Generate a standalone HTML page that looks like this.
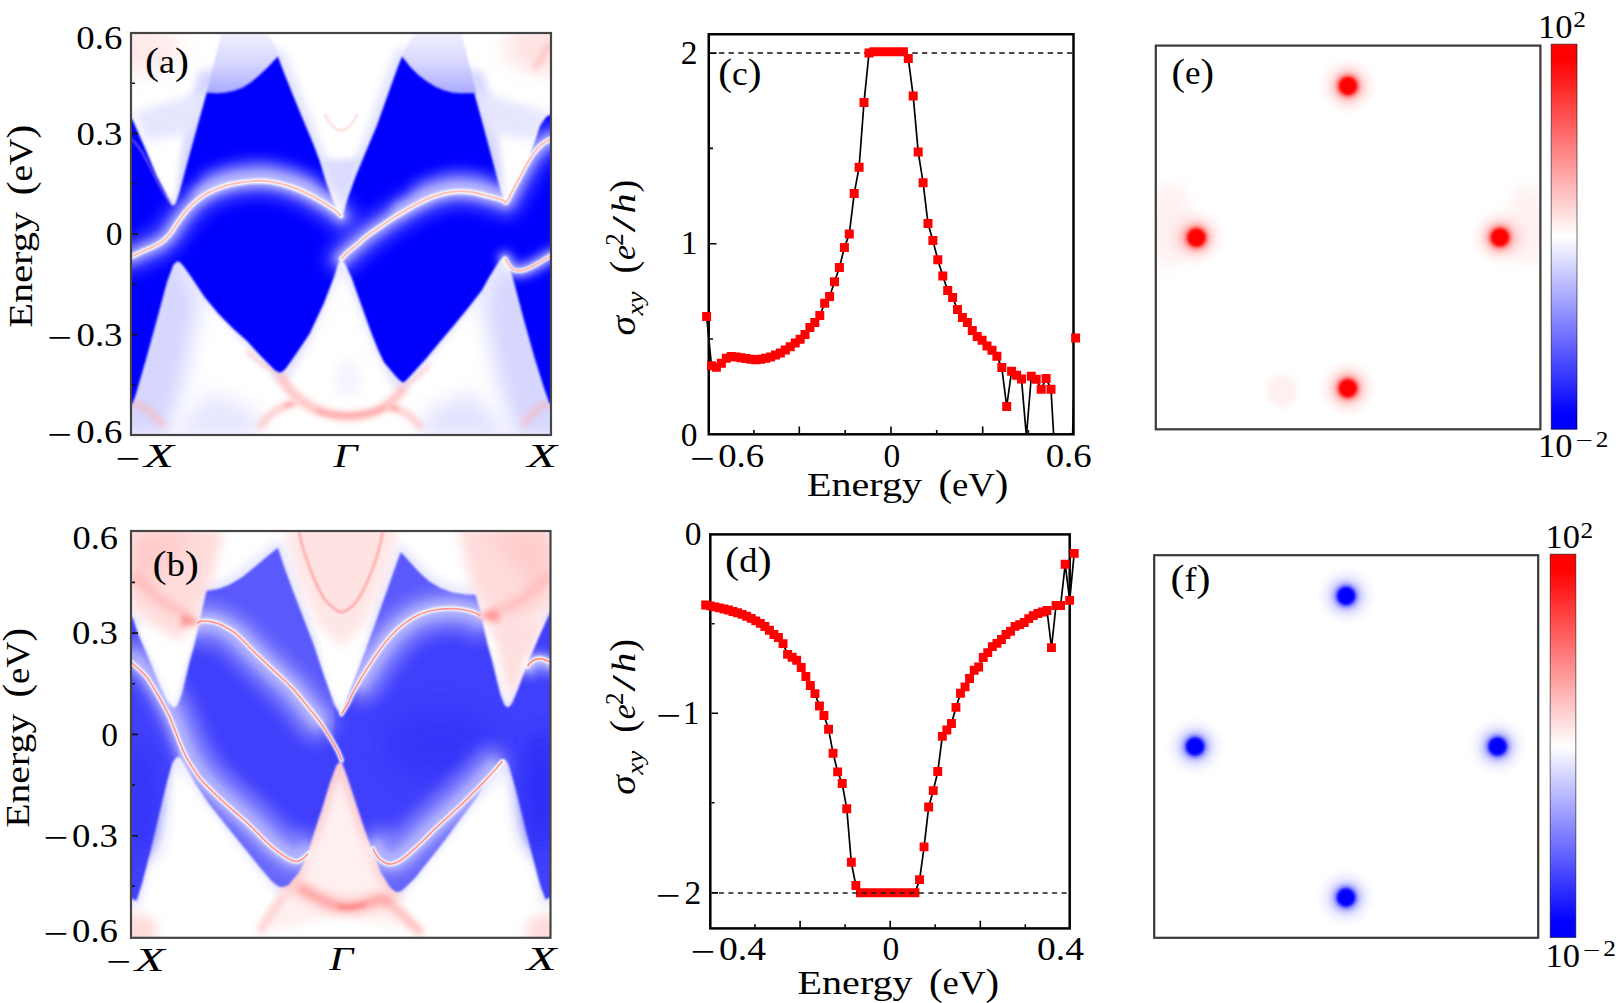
<!DOCTYPE html>
<html lang="en"><head><meta charset="utf-8"><title>Figure</title>
<style>
html,body{margin:0;padding:0;background:#fff;}
body{width:1616px;height:1003px;overflow:hidden;font-family:'Liberation Serif', 'DejaVu Serif', serif;}
svg{display:block;}
svg text{font-family:'Liberation Serif', 'DejaVu Serif', serif;fill:#000;}
</style></head><body>
<svg width="1616" height="1003" viewBox="0 0 1616 1003">
<defs>
<filter id="b05" filterUnits="userSpaceOnUse" x="0" y="0" width="1616" height="1003"><feGaussianBlur stdDeviation="0.5"/></filter>
<filter id="b08" filterUnits="userSpaceOnUse" x="0" y="0" width="1616" height="1003"><feGaussianBlur stdDeviation="0.8"/></filter>
<filter id="b1" filterUnits="userSpaceOnUse" x="0" y="0" width="1616" height="1003"><feGaussianBlur stdDeviation="1.0"/></filter>
<filter id="b15" filterUnits="userSpaceOnUse" x="0" y="0" width="1616" height="1003"><feGaussianBlur stdDeviation="1.5"/></filter>
<filter id="b2" filterUnits="userSpaceOnUse" x="0" y="0" width="1616" height="1003"><feGaussianBlur stdDeviation="2"/></filter>
<filter id="b3" filterUnits="userSpaceOnUse" x="0" y="0" width="1616" height="1003"><feGaussianBlur stdDeviation="3"/></filter>
<filter id="b4" filterUnits="userSpaceOnUse" x="0" y="0" width="1616" height="1003"><feGaussianBlur stdDeviation="4"/></filter>
<filter id="b5" filterUnits="userSpaceOnUse" x="0" y="0" width="1616" height="1003"><feGaussianBlur stdDeviation="5"/></filter>
<filter id="b6" filterUnits="userSpaceOnUse" x="0" y="0" width="1616" height="1003"><feGaussianBlur stdDeviation="6"/></filter>
<filter id="b8" filterUnits="userSpaceOnUse" x="0" y="0" width="1616" height="1003"><feGaussianBlur stdDeviation="8"/></filter>
<filter id="b10" filterUnits="userSpaceOnUse" x="0" y="0" width="1616" height="1003"><feGaussianBlur stdDeviation="10"/></filter>
<filter id="b14" filterUnits="userSpaceOnUse" x="0" y="0" width="1616" height="1003"><feGaussianBlur stdDeviation="14"/></filter>
<clipPath id="clipA"><rect x="131" y="33" width="420" height="402"/></clipPath>
<clipPath id="clipB"><rect x="131" y="531" width="419.5" height="406.8"/></clipPath>
<clipPath id="clipC"><rect x="705.5" y="34.2" width="368" height="400.1"/></clipPath>
<clipPath id="clipE"><rect x="1155.8" y="45.6" width="384.6" height="383.7"/></clipPath>
<clipPath id="clipF"><rect x="1154.2" y="555.2" width="384" height="382.6"/></clipPath>
<linearGradient id="cbar" x1="0" y1="0" x2="0" y2="1"><stop offset="0" stop-color="#ff0000"/><stop offset="0.04" stop-color="#ff0000"/><stop offset="0.5" stop-color="#ffffff"/><stop offset="0.96" stop-color="#0000ff"/><stop offset="1" stop-color="#0000ff"/></linearGradient>
<radialGradient id="dotR"><stop offset="0" stop-color="#ff0000" stop-opacity="1"/><stop offset="0.217" stop-color="#ff0000" stop-opacity="1"/><stop offset="0.283" stop-color="#ff0000" stop-opacity="0.85"/><stop offset="0.35" stop-color="#ff0000" stop-opacity="0.5"/><stop offset="0.433" stop-color="#ff0000" stop-opacity="0.28"/><stop offset="0.533" stop-color="#ff0000" stop-opacity="0.15"/><stop offset="0.667" stop-color="#ff0000" stop-opacity="0.07"/><stop offset="0.833" stop-color="#ff0000" stop-opacity="0.025"/><stop offset="1" stop-color="#ff0000" stop-opacity="0"/></radialGradient>
<radialGradient id="dotB"><stop offset="0" stop-color="#0000ff" stop-opacity="1"/><stop offset="0.217" stop-color="#0000ff" stop-opacity="1"/><stop offset="0.283" stop-color="#0000ff" stop-opacity="0.85"/><stop offset="0.35" stop-color="#0000ff" stop-opacity="0.5"/><stop offset="0.433" stop-color="#0000ff" stop-opacity="0.28"/><stop offset="0.533" stop-color="#0000ff" stop-opacity="0.15"/><stop offset="0.667" stop-color="#0000ff" stop-opacity="0.07"/><stop offset="0.833" stop-color="#0000ff" stop-opacity="0.025"/><stop offset="1" stop-color="#0000ff" stop-opacity="0"/></radialGradient>
<linearGradient id="bowlA" gradientUnits="userSpaceOnUse" x1="0" y1="34" x2="0" y2="96"><stop offset="0" stop-color="#f0f0ff"/><stop offset="0.5" stop-color="#d4d4ff"/><stop offset="1" stop-color="#a4a4ff"/></linearGradient>
</defs>
<rect x="0" y="0" width="1616" height="1003" fill="#ffffff"/>
<g clip-path="url(#clipA)">
<rect x="130" y="32" width="424" height="406" fill="#ffffff"/>
<path d="M128.0,119.2 L132.3,119.2 L146.0,150.6 L156.4,175.7 L166.9,196.0 L169.6,200.6 L171.3,204.0 L173.3,205.8 L175.4,204.0 L177.0,199.8 L179.4,192.5 L187.8,161.1 L198.3,123.0 L206.8,92.4 L217.1,93.2 L225.5,92.6 L233.8,90.8 L242.2,87.8 L250.6,82.6 L259.0,75.4 L268.0,67.0 L277.8,56.4 L284.1,73.1 L292.5,94.1 L302.9,119.2 L313.4,144.3 L319.7,161.1 L326.0,182.0 L334.3,205.0 L338.8,213.5 L341.3,216.0 L343.8,212.0 L347.6,198.8 L355.9,175.7 L366.4,150.6 L376.9,125.5 L387.3,96.2 L397.8,66.9 L402.0,56.4 L410.4,66.9 L418.7,75.2 L427.1,81.5 L435.5,86.8 L443.9,90.3 L452.2,92.4 L460.6,93.2 L474.2,93.0 L481.5,119.2 L489.9,150.6 L498.3,182.0 L502.2,194.5 L503.7,199.5 L505.6,202.4 L507.4,200.5 L508.8,197.5 L519.3,177.5 L527.5,162.0 L533.5,146.0 L540.1,125.5 L546.0,117.0 L554.0,112.5 L554.0,403.7 L549.6,403.7 L544.3,389.1 L533.9,355.6 L523.4,317.9 L512.9,278.1 L508.3,262.5 L504.6,257.4 L500.4,259.6 L495.6,266.8 L488.6,277.9 L481.7,290.5 L467.7,308.6 L453.8,325.4 L439.8,342.1 L425.8,358.9 L418.7,366.7 L411.9,374.2 L407.0,379.6 L403.5,382.8 L399.5,380.3 L395.1,375.6 L384.0,362.3 L378.3,350.3 L371.1,332.3 L362.2,307.5 L351.7,278.1 L345.5,264.5 L341.8,259.5 L338.0,264.0 L334.3,276.1 L323.9,303.3 L309.6,333.8 L298.4,350.5 L288.7,364.5 L284.5,370.0 L280.3,372.8 L276.5,371.3 L274.7,370.0 L260.7,356.1 L246.8,340.7 L232.8,328.2 L218.9,314.2 L204.9,297.5 L190.9,276.5 L184.0,266.8 L180.5,262.8 L177.7,261.3 L173.5,264.5 L166.9,282.3 L158.5,313.7 L145.9,359.8 L135.5,395.4 L132.3,403.7 L128.0,403.7Z" fill="#e6e6ff" stroke="#e2e2ff" stroke-width="16" stroke-linejoin="round" filter="url(#b5)"/>
<path d="M132,34 L184,34 L180,120 L177,190 L173,204 L160,182 L132,122 Z" fill="#ffffff" filter="url(#b3)"/>
<path d="M550,34 L498,34 L502,120 L505,190 L509,204 L522,182 L550,122 Z" fill="#ffffff" filter="url(#b3)"/>
<path d="M292,34 L390,34 L354,150 L341,208 L328,150 Z" fill="#ffffff" filter="url(#b5)"/>
<path d="M178,264 L200,296 L272,374 L262,436 L205,436 L192,330 Z" fill="#ffffff" filter="url(#b4)"/>
<path d="M504,260 L482,296 L410,384 L420,436 L477,436 L490,330 Z" fill="#ffffff" filter="url(#b4)"/>
<path d="M341,268 L386,376 L374,420 L308,420 L298,372 Z" fill="#ffffff" filter="url(#b5)" opacity="0.9"/>
<path d="M321,160 L362,158 L341.5,216 Z" fill="#dcdcff" filter="url(#b3)"/>
<path d="M112,404 L168,240 L200,300 L184,380 L166,438 L112,438 Z" fill="#d6d6ff" filter="url(#b10)"/>
<path d="M570,404 L514,240 L482,300 L498,380 L516,438 L570,438 Z" fill="#d6d6ff" filter="url(#b10)"/>
<path d="M212,392 L256,412 L262,438 L166,438 Z" fill="#e6e6ff" filter="url(#b10)"/>
<path d="M470,392 L426,412 L420,438 L516,438 Z" fill="#e2e2ff" filter="url(#b10)"/>
<path d="M177,216 L220,95 L226,66 L199,72 L188,115 Z" fill="#d6d6ff" filter="url(#b4)"/>
<path d="M210,90 L134,112 L146,142 L194,132 Z" fill="#e6e6ff" filter="url(#b5)"/>
<path d="M505,216 L462,95 L456,66 L483,72 L494,115 Z" fill="#d6d6ff" filter="url(#b4)"/>
<path d="M472,90 L548,112 L536,142 L488,132 Z" fill="#e6e6ff" filter="url(#b5)"/>
<path d="M206.5,93 L221.5,33 L266,33 L274,43 L279,58 L268,68 L259,76.4 L250.6,83.6 L242.2,88.8 L233.8,91.8 L225.5,93.6 L217.1,94.2 Z" fill="url(#bowlA)" filter="url(#b1)"/>
<path d="M476.5,94 L461.5,33 L416,33 L408,43 L401,58 L410.4,67.9 L418.7,76.2 L427.1,82.5 L435.5,87.8 L443.9,91.3 L452.2,93.4 L460.6,94.2 Z" fill="url(#bowlA)" filter="url(#b1)"/>
<ellipse cx="136" cy="50" rx="46" ry="24" fill="#ffdada" filter="url(#b10)" opacity="0.6"/>
<ellipse cx="546" cy="48" rx="42" ry="24" fill="#ffd6d6" filter="url(#b10)" opacity="0.7"/>
<path d="M551,43 L534,70" fill="none" stroke="#ffb4b4" stroke-width="6" filter="url(#b3)" opacity="0.7"/>
<path d="M324.5,114 Q341,147 357.5,114" fill="none" stroke="#ffc4c4" stroke-width="1.5" filter="url(#b08)"/>
<ellipse cx="348" cy="379" rx="15" ry="19" fill="#f6f6ff" filter="url(#b5)"/>
<path d="M279,374 C292,398 315,416 349,416.5 C378,416 395,402 404,386" fill="none" stroke="#ffb4b4" stroke-width="9" filter="url(#b3)" opacity="0.8"/>
<path d="M316,410 C330,417.5 366,418 386,407" fill="none" stroke="#ff9a9a" stroke-width="4" filter="url(#b2)" opacity="0.75"/>
<path d="M259,428 C268,414 280,406 294.6,403.7" fill="none" stroke="#ffb0b0" stroke-width="6" filter="url(#b3)" opacity="0.75"/>
<path d="M284,405.5 L294.6,403.7" fill="none" stroke="#ff8c8c" stroke-width="3" filter="url(#b2)" opacity="0.8"/>
<path d="M389.4,407.6 C402,409 413,417 422,429" fill="none" stroke="#ffb0b0" stroke-width="6" filter="url(#b3)" opacity="0.75"/>
<path d="M389.4,407.6 L399,409.5" fill="none" stroke="#ff8c8c" stroke-width="3" filter="url(#b2)" opacity="0.8"/>
<path d="M246,351 L262,364 L278,374" fill="none" stroke="#ffb8b8" stroke-width="4" filter="url(#b2)" opacity="0.6"/>
<path d="M405,386 L416,378 L430,365" fill="none" stroke="#ffb8b8" stroke-width="4" filter="url(#b2)" opacity="0.6"/>
<path d="M132,404 C145,406 156,414 164,428" fill="none" stroke="#ffb4b4" stroke-width="6" filter="url(#b3)" opacity="0.7"/>
<path d="M550,404 C538,406 530,414 523,426" fill="none" stroke="#ffb4b4" stroke-width="6" filter="url(#b3)" opacity="0.7"/>
<path d="M128.0,119.2 L132.3,119.2 L146.0,150.6 L156.4,175.7 L166.9,196.0 L169.6,200.6 L171.3,204.0 L173.3,205.8 L175.4,204.0 L177.0,199.8 L179.4,192.5 L187.8,161.1 L198.3,123.0 L206.8,92.4 L217.1,93.2 L225.5,92.6 L233.8,90.8 L242.2,87.8 L250.6,82.6 L259.0,75.4 L268.0,67.0 L277.8,56.4 L284.1,73.1 L292.5,94.1 L302.9,119.2 L313.4,144.3 L319.7,161.1 L326.0,182.0 L334.3,205.0 L338.8,213.5 L341.3,216.0 L343.8,212.0 L347.6,198.8 L355.9,175.7 L366.4,150.6 L376.9,125.5 L387.3,96.2 L397.8,66.9 L402.0,56.4 L410.4,66.9 L418.7,75.2 L427.1,81.5 L435.5,86.8 L443.9,90.3 L452.2,92.4 L460.6,93.2 L474.2,93.0 L481.5,119.2 L489.9,150.6 L498.3,182.0 L502.2,194.5 L503.7,199.5 L505.6,202.4 L507.4,200.5 L508.8,197.5 L519.3,177.5 L527.5,162.0 L533.5,146.0 L540.1,125.5 L546.0,117.0 L554.0,112.5 L554.0,403.7 L549.6,403.7 L544.3,389.1 L533.9,355.6 L523.4,317.9 L512.9,278.1 L508.3,262.5 L504.6,257.4 L500.4,259.6 L495.6,266.8 L488.6,277.9 L481.7,290.5 L467.7,308.6 L453.8,325.4 L439.8,342.1 L425.8,358.9 L418.7,366.7 L411.9,374.2 L407.0,379.6 L403.5,382.8 L399.5,380.3 L395.1,375.6 L384.0,362.3 L378.3,350.3 L371.1,332.3 L362.2,307.5 L351.7,278.1 L345.5,264.5 L341.8,259.5 L338.0,264.0 L334.3,276.1 L323.9,303.3 L309.6,333.8 L298.4,350.5 L288.7,364.5 L284.5,370.0 L280.3,372.8 L276.5,371.3 L274.7,370.0 L260.7,356.1 L246.8,340.7 L232.8,328.2 L218.9,314.2 L204.9,297.5 L190.9,276.5 L184.0,266.8 L180.5,262.8 L177.7,261.3 L173.5,264.5 L166.9,282.3 L158.5,313.7 L145.9,359.8 L135.5,395.4 L132.3,403.7 L128.0,403.7Z" fill="#0505ff" filter="url(#b08)"/>
<path d="M208.7,177.5 C212.2,176.2 222.0,171.5 229.7,169.6 C237.4,167.7 247.8,166.5 254.8,166.0 C261.8,165.5 265.2,165.8 271.5,166.8 C277.8,167.8 285.5,169.7 292.5,172.2 C299.5,174.7 309.9,180.1 313.4,181.7" fill="none" stroke="#fff" stroke-width="16" opacity="0.22" filter="url(#b6)" stroke-linecap="round"/>
<path d="M418.7,188.2 C421.5,187.0 429.9,182.7 435.5,180.8 C441.1,178.9 446.6,177.5 452.2,176.8 C457.8,176.1 463.4,176.2 469.0,176.8 C474.6,177.4 482.9,179.8 485.7,180.4" fill="none" stroke="#fff" stroke-width="16" opacity="0.22" filter="url(#b6)" stroke-linecap="round"/>
<path d="M198.0,192.5 C199.8,191.3 203.4,188.0 208.7,185.5 C214.0,183.0 222.0,179.5 229.7,177.6 C237.4,175.7 247.8,174.5 254.8,174.0 C261.8,173.5 265.2,173.8 271.5,174.8 C277.8,175.8 285.5,177.7 292.5,180.2 C299.5,182.7 306.4,186.0 313.4,189.7 C320.4,193.4 330.8,200.4 334.3,202.5" fill="none" stroke="#fff" stroke-width="13" opacity="0.36" filter="url(#b5)" stroke-linecap="round"/>
<path d="M397.0,208.5 C400.6,206.4 412.3,199.5 418.7,196.2 C425.1,192.9 429.9,190.7 435.5,188.8 C441.1,186.9 446.6,185.5 452.2,184.8 C457.8,184.1 463.4,184.2 469.0,184.8 C474.6,185.4 480.1,187.0 485.7,188.4 C491.3,189.8 499.7,192.2 502.5,193.0" fill="none" stroke="#fff" stroke-width="13" opacity="0.36" filter="url(#b5)" stroke-linecap="round"/>
<path d="M130.0,257.0 C130.4,256.9 129.7,257.4 132.3,256.2 C135.0,255.0 141.9,251.7 145.9,249.9 C149.9,248.1 153.2,246.9 156.4,245.2 C159.6,243.5 162.4,241.6 164.8,239.5 C167.2,237.4 168.9,235.4 171.1,232.5 C173.3,229.6 175.2,225.9 178.0,222.0 C180.8,218.1 184.5,212.9 187.8,209.2 C191.1,205.4 194.5,202.3 198.0,199.5 C201.5,196.7 203.4,195.0 208.7,192.5 C214.0,190.0 222.0,186.5 229.7,184.6 C237.4,182.7 247.8,181.5 254.8,181.0 C261.8,180.5 265.2,180.8 271.5,181.8 C277.8,182.8 285.5,184.7 292.5,187.2 C299.5,189.7 306.4,193.0 313.4,196.7 C320.4,200.4 329.7,206.3 334.3,209.5 C338.9,212.7 339.9,214.9 341.0,216.0" fill="none" stroke="#fff" stroke-width="30" opacity="0.33" filter="url(#b8)" stroke-linecap="round"/><path d="M130.0,257.0 C130.4,256.9 129.7,257.4 132.3,256.2 C135.0,255.0 141.9,251.7 145.9,249.9 C149.9,248.1 153.2,246.9 156.4,245.2 C159.6,243.5 162.4,241.6 164.8,239.5 C167.2,237.4 168.9,235.4 171.1,232.5 C173.3,229.6 175.2,225.9 178.0,222.0 C180.8,218.1 184.5,212.9 187.8,209.2 C191.1,205.4 194.5,202.3 198.0,199.5 C201.5,196.7 203.4,195.0 208.7,192.5 C214.0,190.0 222.0,186.5 229.7,184.6 C237.4,182.7 247.8,181.5 254.8,181.0 C261.8,180.5 265.2,180.8 271.5,181.8 C277.8,182.8 285.5,184.7 292.5,187.2 C299.5,189.7 306.4,193.0 313.4,196.7 C320.4,200.4 329.7,206.3 334.3,209.5 C338.9,212.7 339.9,214.9 341.0,216.0" fill="none" stroke="#fff" stroke-width="14" opacity="0.5" filter="url(#b4)" stroke-linecap="round"/><path d="M130.0,257.0 C130.4,256.9 129.7,257.4 132.3,256.2 C135.0,255.0 141.9,251.7 145.9,249.9 C149.9,248.1 153.2,246.9 156.4,245.2 C159.6,243.5 162.4,241.6 164.8,239.5 C167.2,237.4 168.9,235.4 171.1,232.5 C173.3,229.6 175.2,225.9 178.0,222.0 C180.8,218.1 184.5,212.9 187.8,209.2 C191.1,205.4 194.5,202.3 198.0,199.5 C201.5,196.7 203.4,195.0 208.7,192.5 C214.0,190.0 222.0,186.5 229.7,184.6 C237.4,182.7 247.8,181.5 254.8,181.0 C261.8,180.5 265.2,180.8 271.5,181.8 C277.8,182.8 285.5,184.7 292.5,187.2 C299.5,189.7 306.4,193.0 313.4,196.7 C320.4,200.4 329.7,206.3 334.3,209.5 C338.9,212.7 339.9,214.9 341.0,216.0" fill="none" stroke="#fff" stroke-width="5.2" opacity="1.0" filter="url(#b1)" stroke-linecap="round"/><path d="M130.0,257.0 C130.4,256.9 129.7,257.4 132.3,256.2 C135.0,255.0 141.9,251.7 145.9,249.9 C149.9,248.1 153.2,246.9 156.4,245.2 C159.6,243.5 162.4,241.6 164.8,239.5 C167.2,237.4 168.9,235.4 171.1,232.5 C173.3,229.6 175.2,225.9 178.0,222.0 C180.8,218.1 184.5,212.9 187.8,209.2 C191.1,205.4 194.5,202.3 198.0,199.5 C201.5,196.7 203.4,195.0 208.7,192.5 C214.0,190.0 222.0,186.5 229.7,184.6 C237.4,182.7 247.8,181.5 254.8,181.0 C261.8,180.5 265.2,180.8 271.5,181.8 C277.8,182.8 285.5,184.7 292.5,187.2 C299.5,189.7 306.4,193.0 313.4,196.7 C320.4,200.4 329.7,206.3 334.3,209.5 C338.9,212.7 339.9,214.9 341.0,216.0" fill="none" stroke="#ffc0b4" stroke-width="2.0" filter="url(#b05)"/>
<path d="M341.3,259.0 C342.4,257.8 345.6,254.2 348.0,252.0 C350.4,249.8 352.8,248.3 355.9,245.7 C359.0,243.1 362.9,239.3 366.4,236.5 C369.9,233.7 371.8,232.5 376.9,229.0 C382.0,225.5 390.0,219.8 397.0,215.5 C404.0,211.2 412.3,206.5 418.7,203.2 C425.1,199.9 429.9,197.7 435.5,195.8 C441.1,193.9 446.6,192.5 452.2,191.8 C457.8,191.1 463.4,191.2 469.0,191.8 C474.6,192.4 480.1,194.0 485.7,195.4 C491.3,196.8 499.1,198.9 502.5,200.0 C505.9,201.1 504.6,203.6 506.3,202.0 C508.0,200.4 510.3,194.5 512.5,190.5 C514.7,186.5 516.9,182.4 519.3,177.9 C521.7,173.4 524.6,167.6 527.0,163.5 C529.4,159.4 531.3,156.4 533.5,153.5 C535.7,150.6 537.9,148.0 540.0,146.0 C542.1,144.0 544.0,142.8 546.0,141.5 C548.0,140.2 551.0,139.0 552.0,138.5" fill="none" stroke="#fff" stroke-width="30" opacity="0.33" filter="url(#b8)" stroke-linecap="round"/><path d="M341.3,259.0 C342.4,257.8 345.6,254.2 348.0,252.0 C350.4,249.8 352.8,248.3 355.9,245.7 C359.0,243.1 362.9,239.3 366.4,236.5 C369.9,233.7 371.8,232.5 376.9,229.0 C382.0,225.5 390.0,219.8 397.0,215.5 C404.0,211.2 412.3,206.5 418.7,203.2 C425.1,199.9 429.9,197.7 435.5,195.8 C441.1,193.9 446.6,192.5 452.2,191.8 C457.8,191.1 463.4,191.2 469.0,191.8 C474.6,192.4 480.1,194.0 485.7,195.4 C491.3,196.8 499.1,198.9 502.5,200.0 C505.9,201.1 504.6,203.6 506.3,202.0 C508.0,200.4 510.3,194.5 512.5,190.5 C514.7,186.5 516.9,182.4 519.3,177.9 C521.7,173.4 524.6,167.6 527.0,163.5 C529.4,159.4 531.3,156.4 533.5,153.5 C535.7,150.6 537.9,148.0 540.0,146.0 C542.1,144.0 544.0,142.8 546.0,141.5 C548.0,140.2 551.0,139.0 552.0,138.5" fill="none" stroke="#fff" stroke-width="14" opacity="0.5" filter="url(#b4)" stroke-linecap="round"/><path d="M341.3,259.0 C342.4,257.8 345.6,254.2 348.0,252.0 C350.4,249.8 352.8,248.3 355.9,245.7 C359.0,243.1 362.9,239.3 366.4,236.5 C369.9,233.7 371.8,232.5 376.9,229.0 C382.0,225.5 390.0,219.8 397.0,215.5 C404.0,211.2 412.3,206.5 418.7,203.2 C425.1,199.9 429.9,197.7 435.5,195.8 C441.1,193.9 446.6,192.5 452.2,191.8 C457.8,191.1 463.4,191.2 469.0,191.8 C474.6,192.4 480.1,194.0 485.7,195.4 C491.3,196.8 499.1,198.9 502.5,200.0 C505.9,201.1 504.6,203.6 506.3,202.0 C508.0,200.4 510.3,194.5 512.5,190.5 C514.7,186.5 516.9,182.4 519.3,177.9 C521.7,173.4 524.6,167.6 527.0,163.5 C529.4,159.4 531.3,156.4 533.5,153.5 C535.7,150.6 537.9,148.0 540.0,146.0 C542.1,144.0 544.0,142.8 546.0,141.5 C548.0,140.2 551.0,139.0 552.0,138.5" fill="none" stroke="#fff" stroke-width="5.2" opacity="1.0" filter="url(#b1)" stroke-linecap="round"/><path d="M341.3,259.0 C342.4,257.8 345.6,254.2 348.0,252.0 C350.4,249.8 352.8,248.3 355.9,245.7 C359.0,243.1 362.9,239.3 366.4,236.5 C369.9,233.7 371.8,232.5 376.9,229.0 C382.0,225.5 390.0,219.8 397.0,215.5 C404.0,211.2 412.3,206.5 418.7,203.2 C425.1,199.9 429.9,197.7 435.5,195.8 C441.1,193.9 446.6,192.5 452.2,191.8 C457.8,191.1 463.4,191.2 469.0,191.8 C474.6,192.4 480.1,194.0 485.7,195.4 C491.3,196.8 499.1,198.9 502.5,200.0 C505.9,201.1 504.6,203.6 506.3,202.0 C508.0,200.4 510.3,194.5 512.5,190.5 C514.7,186.5 516.9,182.4 519.3,177.9 C521.7,173.4 524.6,167.6 527.0,163.5 C529.4,159.4 531.3,156.4 533.5,153.5 C535.7,150.6 537.9,148.0 540.0,146.0 C542.1,144.0 544.0,142.8 546.0,141.5 C548.0,140.2 551.0,139.0 552.0,138.5" fill="none" stroke="#ffc0b4" stroke-width="2.0" filter="url(#b05)"/>
<path d="M505.0,258.5 C505.6,259.6 507.5,263.4 508.8,265.2 C510.1,267.0 511.6,268.6 513.0,269.5 C514.4,270.4 515.0,270.8 517.1,270.8 C519.2,270.8 522.4,270.7 525.5,269.6 C528.6,268.6 531.6,266.9 536.0,264.5 C540.4,262.1 549.3,256.6 552.0,255.0" fill="none" stroke="#fff" stroke-width="18" opacity="0.35" filter="url(#b5)" stroke-linecap="round"/><path d="M505.0,258.5 C505.6,259.6 507.5,263.4 508.8,265.2 C510.1,267.0 511.6,268.6 513.0,269.5 C514.4,270.4 515.0,270.8 517.1,270.8 C519.2,270.8 522.4,270.7 525.5,269.6 C528.6,268.6 531.6,266.9 536.0,264.5 C540.4,262.1 549.3,256.6 552.0,255.0" fill="none" stroke="#fff" stroke-width="9" opacity="0.5" filter="url(#b3)" stroke-linecap="round"/><path d="M505.0,258.5 C505.6,259.6 507.5,263.4 508.8,265.2 C510.1,267.0 511.6,268.6 513.0,269.5 C514.4,270.4 515.0,270.8 517.1,270.8 C519.2,270.8 522.4,270.7 525.5,269.6 C528.6,268.6 531.6,266.9 536.0,264.5 C540.4,262.1 549.3,256.6 552.0,255.0" fill="none" stroke="#fff" stroke-width="4.4" opacity="1.0" filter="url(#b1)" stroke-linecap="round"/><path d="M505.0,258.5 C505.6,259.6 507.5,263.4 508.8,265.2 C510.1,267.0 511.6,268.6 513.0,269.5 C514.4,270.4 515.0,270.8 517.1,270.8 C519.2,270.8 522.4,270.7 525.5,269.6 C528.6,268.6 531.6,266.9 536.0,264.5 C540.4,262.1 549.3,256.6 552.0,255.0" fill="none" stroke="#ffc0b4" stroke-width="2.0" filter="url(#b05)"/>
<path d="M130.0,138.0 C130.7,138.6 132.0,139.2 134.0,141.5 C136.0,143.8 139.3,147.8 142.0,152.0 C144.7,156.2 147.0,161.2 150.0,167.0 C153.0,172.8 157.0,181.6 160.0,187.0 C163.0,192.4 165.8,196.5 168.0,199.5 C170.2,202.5 172.2,204.1 173.0,205.0" fill="none" stroke="#ffd0d0" stroke-width="1.4" filter="url(#b08)" opacity="0.55"/>
</g>
<rect x="131" y="33" width="420" height="402" fill="none" stroke="#454545" stroke-width="2.2"/>
<path d="M132,133.5 h6 M132,234 h6 M132,334.5 h6 M132,83.2 h3 M132,183.7 h3 M132,284.2 h3 M132,384.7 h3" stroke="#111" stroke-width="1.6" fill="none"/>
<text x="122.3" y="49.3" font-size="33.5" text-anchor="end" textLength="46" lengthAdjust="spacingAndGlyphs" >0.6</text>
<text x="122.5" y="144.6" font-size="33.5" text-anchor="end" textLength="46" lengthAdjust="spacingAndGlyphs" >0.3</text>
<text x="122.5" y="245.3" font-size="33.5" text-anchor="end" >0</text>
<text x="122.5" y="346.3" font-size="33.5" text-anchor="end" textLength="46" lengthAdjust="spacingAndGlyphs" >0.3</text>
<text x="47.4" y="348.9" font-size="33.5" textLength="24.8" lengthAdjust="spacingAndGlyphs">−</text>
<text x="122.3" y="443" font-size="33.5" text-anchor="end" textLength="46" lengthAdjust="spacingAndGlyphs" >0.6</text>
<text x="47.4" y="445.6" font-size="33.5" textLength="24.8" lengthAdjust="spacingAndGlyphs">−</text>
<text x="145.1" y="73" font-size="33" textLength="44.0" lengthAdjust="spacingAndGlyphs"><tspan font-size="38.5" dy="0.6">(</tspan><tspan dy="-0.6">a</tspan><tspan font-size="38.5" dy="0.6">)</tspan></text>
<text x="115.8" y="469.6" font-size="33.5" textLength="24.8" lengthAdjust="spacingAndGlyphs">−</text>
<text x="144" y="467" font-size="34.5" font-style="italic" textLength="30" lengthAdjust="spacingAndGlyphs" >X</text>
<text x="333.5" y="467" font-size="34.5" font-style="italic" textLength="24" lengthAdjust="spacingAndGlyphs" >Γ</text>
<text x="527" y="467" font-size="34.5" font-style="italic" textLength="30" lengthAdjust="spacingAndGlyphs" >X</text>
<g transform="translate(32.4,326.9) rotate(-90)">
<text x="-0.8" y="0" font-size="34" textLength="115.9" lengthAdjust="spacingAndGlyphs">Energy</text>
<text x="131.6" y="0" font-size="34" textLength="70.6" lengthAdjust="spacingAndGlyphs"><tspan font-size="37.8" dy="0.7">(</tspan><tspan dy="-0.7">eV</tspan><tspan font-size="37.8" dy="0.7">)</tspan></text>
</g>
<g clip-path="url(#clipB)">
<rect x="130" y="529" width="424" height="412" fill="#ffffff"/>
<path d="M128.0,617.0 L132.5,617.5 L138.8,635.9 L146.0,652.1 L153.1,669.1 L160.3,686.2 L166.6,700.5 L170.6,705.6 L174.3,707.5 L177.4,705.2 L179.6,700.0 L181.9,693.4 L185.5,679.0 L189.9,661.0 L194.4,644.9 L198.9,625.1 L202.5,608.7 L206.6,590.9 L219.2,588.8 L229.7,584.7 L242.2,577.3 L254.8,566.9 L267.3,556.4 L277.8,548.0 L284.1,566.9 L292.5,589.9 L302.9,617.1 L313.4,644.3 L323.9,675.7 L334.3,705.0 L338.8,712.5 L341.3,714.2 L344.0,710.5 L347.6,698.8 L355.9,675.7 L366.4,648.5 L376.9,619.2 L387.3,589.9 L397.8,560.6 L400.9,552.2 L410.4,562.7 L418.7,572.1 L429.2,581.5 L439.7,587.8 L452.2,592.4 L464.8,594.5 L475.3,595.1 L479.5,608.7 L483.1,625.1 L487.6,644.9 L492.1,661.0 L496.5,679.0 L500.1,693.4 L502.4,700.0 L504.6,705.2 L507.5,707.5 L510.5,705.4 L512.5,702.3 L517.8,689.8 L523.2,675.4 L530.4,657.5 L539.4,635.9 L548.4,616.2 L554.0,606.0 L554.0,897.5 L549.6,897.8 L545.5,899.6 L540.1,884.9 L531.8,853.5 L523.4,820.0 L515.0,786.5 L508.8,765.6 L506.0,760.8 L503.5,759.5 L500.4,760.8 L497.5,765.3 L492.0,772.5 L486.5,781.0 L481.9,787.8 L475.9,797.9 L469.9,806.3 L457.9,821.9 L444.8,840.0 L435.8,851.5 L425.0,865.0 L414.9,878.0 L406.2,886.5 L401.5,890.4 L397.8,892.0 L394.0,890.5 L389.4,886.0 L381.1,872.3 L372.7,851.4 L364.3,828.4 L355.9,803.3 L347.6,778.1 L343.0,765.5 L340.4,761.6 L337.8,764.0 L336.4,765.6 L330.1,782.3 L321.8,809.5 L313.4,834.7 L307.1,855.6 L298.8,872.3 L288.3,884.9 L283.5,886.8 L279.9,886.8 L276.0,884.5 L271.5,880.7 L259.0,866.1 L242.2,845.1 L225.5,824.2 L208.7,803.3 L196.2,784.4 L185.7,765.6 L181.3,758.5 L178.4,756.4 L175.3,758.5 L172.1,763.5 L166.9,782.3 L158.5,817.0 L150.1,852.5 L142.2,883.0 L137.4,898.3 L136.3,901.0 L132.3,898.8 L128.0,897.8Z" fill="#ececff" stroke="#e6e6ff" stroke-width="14" stroke-linejoin="round" filter="url(#b5)"/>
<path d="M136,624 L174.3,703 L199,622 L170,632 Z" fill="#ffffff" filter="url(#b2)"/>
<path d="M481,620 L507.5,703 L546,622 L512,632 Z" fill="#ffffff" filter="url(#b2)"/>
<path d="M296,531 L387,531 L354,688 L341,710 L328,688 Z" fill="#ffffff" filter="url(#b3)"/>
<path d="M178,770 L272,890 L250,940 L140,940 L150,870 Z" fill="#ffffff" filter="url(#b5)"/>
<path d="M504,772 L405,895 L430,940 L540,940 L535,880 Z" fill="#ffffff" filter="url(#b5)"/>
<path d="M130,529 L224,529 L214,570 L205,598 L199,622 L180,640 L160,630 L130,606 Z" fill="#ffdcdc" filter="url(#b6)"/>
<path d="M130,529 L200,529 L150,585 L130,590 Z" fill="#ffc8c8" filter="url(#b10)" opacity="0.8"/>
<path d="M132,575 L160,600 L197,622" fill="none" stroke="#ffb0b0" stroke-width="10" filter="url(#b4)" opacity="0.7"/>
<path d="M552,529 L458,529 L468,570 L476,598 L481,617 L500,640 L522,630 L552,606 Z" fill="#ffdcdc" filter="url(#b6)"/>
<path d="M552,529 L482,529 L532,585 L552,590 Z" fill="#ffc8c8" filter="url(#b10)" opacity="0.8"/>
<path d="M550,575 L522,600 L484,617" fill="none" stroke="#ffb0b0" stroke-width="10" filter="url(#b4)" opacity="0.7"/>
<path d="M492,622 L546,620 L522,676 L510,700 L504,680 Z" fill="#ffe0e0" filter="url(#b4)"/>
<path d="M298.8,531.0 C299.5,533.8 300.6,540.3 303.0,548.0 C305.4,555.7 309.9,568.9 313.4,577.3 C316.9,585.7 320.4,593.1 323.9,598.3 C327.4,603.5 331.4,606.5 334.3,608.7 C337.2,611.0 339.1,611.4 341.0,611.8 C342.9,612.2 343.0,612.5 345.5,611.0 C348.0,609.5 352.4,607.1 355.9,602.5 C359.4,597.9 362.9,591.3 366.4,583.6 C369.9,575.9 374.1,565.2 376.9,556.4 C379.7,547.6 382.1,535.2 383.1,531.0 Z" fill="#ffdede" filter="url(#b2)"/>
<path d="M283,529 L296,575 L318,625 L341,648 L364,625 L386,575 L399,529 Z" fill="#ffe4e4" filter="url(#b5)" opacity="0.9"/>
<path d="M298.8,531.0 C299.5,533.8 300.6,540.3 303.0,548.0 C305.4,555.7 309.9,568.9 313.4,577.3 C316.9,585.7 320.4,593.1 323.9,598.3 C327.4,603.5 331.4,606.5 334.3,608.7 C337.2,611.0 339.1,611.4 341.0,611.8 C342.9,612.2 343.0,612.5 345.5,611.0 C348.0,609.5 352.4,607.1 355.9,602.5 C359.4,597.9 362.9,591.3 366.4,583.6 C369.9,575.9 374.1,565.2 376.9,556.4 C379.7,547.6 382.1,535.2 383.1,531.0" fill="none" stroke="#ffa4a4" stroke-width="2.4" filter="url(#b08)"/>
<path d="M341,770 L300,870 L282,892 L262,932 L300,925 L341,915 L385,925 L421,934 L398,896 L385,880 Z" fill="#fff0f0" filter="url(#b5)"/>
<path d="M340.5,762 L330,785 L318,820 L307,856 L296,876 L283,890" fill="none" stroke="#ffc4c4" stroke-width="11" filter="url(#b4)" opacity="0.8"/>
<path d="M341,762 L349,785 L361,820 L372,852 L384,878 L398,894" fill="none" stroke="#ffc4c4" stroke-width="11" filter="url(#b4)" opacity="0.8"/>
<path d="M292,884 C305,892 320,900 334,905 C346,908.5 358,906.5 370,902.5 C377,900 382,898 386,899.5 L392,906" fill="none" stroke="#ffbcbc" stroke-width="17" filter="url(#b5)" opacity="0.8"/>
<path d="M300,888 C310,894 322,900.5 334,905 C346,908.5 358,906.5 370,902.5 C377,900 382,898 386,899.5 L391,905" fill="none" stroke="#ff9494" stroke-width="5" filter="url(#b3)" opacity="0.9"/>
<path d="M338,906.5 C346,908.6 356,907.4 366,904" fill="none" stroke="#ff7070" stroke-width="3" filter="url(#b2)" opacity="0.85"/>
<path d="M391,905 L406,918 L422,934" fill="none" stroke="#ffb0b0" stroke-width="8" filter="url(#b3)" opacity="0.8"/>
<path d="M284,895 L272,912 L259,932" fill="none" stroke="#ffc0c0" stroke-width="8" filter="url(#b3)" opacity="0.7"/>
<ellipse cx="136" cy="930" rx="22" ry="16" fill="#ffdcdc" filter="url(#b6)"/>
<ellipse cx="546" cy="930" rx="20" ry="16" fill="#ffdcdc" filter="url(#b6)"/>
<path d="M128.0,617.0 L132.5,617.5 L138.8,635.9 L146.0,652.1 L153.1,669.1 L160.3,686.2 L166.6,700.5 L170.6,705.6 L174.3,707.5 L177.4,705.2 L179.6,700.0 L181.9,693.4 L185.5,679.0 L189.9,661.0 L194.4,644.9 L198.9,625.1 L202.5,608.7 L206.6,590.9 L219.2,588.8 L229.7,584.7 L242.2,577.3 L254.8,566.9 L267.3,556.4 L277.8,548.0 L284.1,566.9 L292.5,589.9 L302.9,617.1 L313.4,644.3 L323.9,675.7 L334.3,705.0 L338.8,712.5 L341.3,714.2 L344.0,710.5 L347.6,698.8 L355.9,675.7 L366.4,648.5 L376.9,619.2 L387.3,589.9 L397.8,560.6 L400.9,552.2 L410.4,562.7 L418.7,572.1 L429.2,581.5 L439.7,587.8 L452.2,592.4 L464.8,594.5 L475.3,595.1 L479.5,608.7 L483.1,625.1 L487.6,644.9 L492.1,661.0 L496.5,679.0 L500.1,693.4 L502.4,700.0 L504.6,705.2 L507.5,707.5 L510.5,705.4 L512.5,702.3 L517.8,689.8 L523.2,675.4 L530.4,657.5 L539.4,635.9 L548.4,616.2 L554.0,606.0 L554.0,897.5 L549.6,897.8 L545.5,899.6 L540.1,884.9 L531.8,853.5 L523.4,820.0 L515.0,786.5 L508.8,765.6 L506.0,760.8 L503.5,759.5 L500.4,760.8 L497.5,765.3 L492.0,772.5 L486.5,781.0 L481.9,787.8 L475.9,797.9 L469.9,806.3 L457.9,821.9 L444.8,840.0 L435.8,851.5 L425.0,865.0 L414.9,878.0 L406.2,886.5 L401.5,890.4 L397.8,892.0 L394.0,890.5 L389.4,886.0 L381.1,872.3 L372.7,851.4 L364.3,828.4 L355.9,803.3 L347.6,778.1 L343.0,765.5 L340.4,761.6 L337.8,764.0 L336.4,765.6 L330.1,782.3 L321.8,809.5 L313.4,834.7 L307.1,855.6 L298.8,872.3 L288.3,884.9 L283.5,886.8 L279.9,886.8 L276.0,884.5 L271.5,880.7 L259.0,866.1 L242.2,845.1 L225.5,824.2 L208.7,803.3 L196.2,784.4 L185.7,765.6 L181.3,758.5 L178.4,756.4 L175.3,758.5 L172.1,763.5 L166.9,782.3 L158.5,817.0 L150.1,852.5 L142.2,883.0 L137.4,898.3 L136.3,901.0 L132.3,898.8 L128.0,897.8Z" fill="#4040fc" filter="url(#b08)"/>
<ellipse cx="440" cy="745" rx="55" ry="38" fill="#3030f8" filter="url(#b14)" opacity="0.7"/>
<ellipse cx="540" cy="790" rx="16" ry="60" fill="#2c2cf6" filter="url(#b10)" opacity="0.9"/>
<ellipse cx="142" cy="800" rx="14" ry="55" fill="#3030f6" filter="url(#b10)" opacity="0.8"/>
<path d="M197.5,623.5 L200.5,621.4 L209.0,621.3 L218.5,623.6 L227.0,628.0 L236.9,634.6 L255.4,653.1 L273.8,670.6 L292.3,688.2 L310.7,710.3 L318.1,719.5 L323.8,727.5 L334.0,744.0 L334.3,705.0 L323.9,675.7 L313.4,644.3 L302.9,617.1 L292.5,589.9 L284.1,566.9 L277.8,548.0 L267.3,556.4 L254.8,566.9 L242.2,577.3 L229.7,584.7 L219.2,588.8 L206.6,590.9 L202.5,608.7 L198.9,625.1Z" fill="#fff" opacity="0.13" filter="url(#b1)"/>
<path d="M347.8,703.5 L353.0,692.5 L359.5,681.0 L365.9,670.4 L378.9,651.0 L391.9,634.7 L404.9,623.1 L417.8,615.3 L430.8,610.8 L443.8,608.8 L456.7,608.8 L469.7,611.0 L477.5,614.0 L480.5,616.5 L479.5,608.7 L475.3,595.1 L464.8,594.5 L452.2,592.4 L439.7,587.8 L429.2,581.5 L418.7,572.1 L410.4,562.7 L400.9,552.2 L397.8,560.6 L387.3,589.9 L376.9,619.2 L366.4,648.5 L355.9,675.7 L347.6,698.8Z" fill="#fff" opacity="0.13" filter="url(#b1)"/>
<path d="M199.2,626.0 C199.5,625.7 199.5,624.6 201.1,624.3 C202.6,624.1 205.9,623.9 208.6,624.3 C211.4,624.6 214.6,625.4 217.5,626.4 C220.3,627.5 222.6,628.8 225.5,630.6 C228.4,632.3 230.3,632.7 234.9,636.8 C239.6,641.0 247.2,649.3 253.3,655.2 C259.4,661.2 265.6,666.9 271.7,672.8 C277.9,678.6 284.0,683.7 290.1,690.2 C296.2,696.8 304.1,707.0 308.4,712.2 C312.7,717.4 314.5,719.9 315.8,721.4" fill="none" stroke="#fff" stroke-width="40" opacity="0.33" filter="url(#b8)" stroke-linecap="round"/><path d="M198.4,624.7 C198.8,624.4 199.0,623.2 200.8,622.9 C202.5,622.5 206.0,622.4 208.8,622.8 C211.7,623.1 215.1,623.9 218.0,625.0 C220.9,626.1 223.2,627.5 226.2,629.3 C229.2,631.1 231.2,631.6 235.9,635.7 C240.6,639.9 248.2,648.2 254.4,654.2 C260.5,660.2 266.6,665.8 272.8,671.7 C278.9,677.5 285.1,682.6 291.2,689.2 C297.3,695.8 305.3,706.1 309.5,711.3 C313.8,716.5 315.7,718.9 316.9,720.4" fill="none" stroke="#fff" stroke-width="18" opacity="0.4" filter="url(#b5)" stroke-linecap="round"/><path d="M197.5,623.5 C198.0,623.1 198.6,621.8 200.5,621.4 C202.4,621.0 206.0,620.9 209.0,621.3 C212.0,621.7 215.5,622.5 218.5,623.6 C221.5,624.7 223.9,626.2 227.0,628.0 C230.1,629.8 232.2,630.4 236.9,634.6 C241.6,638.8 249.2,647.1 255.4,653.1 C261.6,659.1 267.7,664.8 273.8,670.6 C279.9,676.5 286.2,681.6 292.3,688.2 C298.4,694.8 306.4,705.1 310.7,710.3 C315.0,715.5 315.9,716.6 318.1,719.5 C320.3,722.4 321.2,723.4 323.8,727.5 C326.4,731.6 331.6,739.8 334.0,744.0 C336.4,748.2 337.2,749.8 338.5,752.5 C339.8,755.2 341.1,759.2 341.6,760.5" fill="none" stroke="#fff" stroke-width="4.6" opacity="1.0" filter="url(#b1)" stroke-linecap="round"/><path d="M197.5,623.5 C198.0,623.1 198.6,621.8 200.5,621.4 C202.4,621.0 206.0,620.9 209.0,621.3 C212.0,621.7 215.5,622.5 218.5,623.6 C221.5,624.7 223.9,626.2 227.0,628.0 C230.1,629.8 232.2,630.4 236.9,634.6 C241.6,638.8 249.2,647.1 255.4,653.1 C261.6,659.1 267.7,664.8 273.8,670.6 C279.9,676.5 286.2,681.6 292.3,688.2 C298.4,694.8 306.4,705.1 310.7,710.3 C315.0,715.5 315.9,716.6 318.1,719.5 C320.3,722.4 321.2,723.4 323.8,727.5 C326.4,731.6 331.6,739.8 334.0,744.0 C336.4,748.2 337.2,749.8 338.5,752.5 C339.8,755.2 341.1,759.2 341.6,760.5" fill="none" stroke="#ff968c" stroke-width="1.7" filter="url(#b05)"/>
<path d="M178.0,738.0 L186.0,756.7 L193.5,769.0 L201.9,780.6 L217.9,796.6 L233.8,811.0 L249.8,825.3 L265.7,841.3 L275.0,849.5 L283.0,855.3 L290.4,859.8 L296.7,861.5 L302.9,858.7 L308.2,853.5 L307.1,855.6 L298.8,872.3 L288.3,884.9 L279.9,886.8 L271.5,880.7 L259.0,866.1 L242.2,845.1 L225.5,824.2 L208.7,803.3 L196.2,784.4 L185.7,765.6 L178.4,756.4Z" fill="#fff" opacity="0.2" filter="url(#b1)"/>
<path d="M134.8,655.1 C135.2,655.4 134.8,654.6 137.7,657.3 C140.6,659.9 147.8,665.7 152.1,670.9 C156.3,676.1 159.6,682.3 163.3,688.4 C166.9,694.5 171.4,702.6 174.0,707.6 C176.6,712.6 177.1,714.0 179.0,718.5 C180.9,723.1 183.0,729.2 185.4,735.0 C187.8,740.7 190.7,748.2 193.2,753.1 C195.6,758.1 197.7,760.9 200.2,764.6 C202.6,768.3 204.0,770.9 207.9,775.3 C211.8,779.7 218.2,785.9 223.4,790.8 C228.6,795.8 233.8,800.3 239.2,805.1 C244.5,809.8 250.0,814.4 255.3,819.5 C260.7,824.6 267.1,831.6 271.2,835.5 C275.4,839.5 277.3,841.1 280.0,843.3 C282.7,845.5 285.2,847.1 287.4,848.7 C289.7,850.2 292.3,851.7 293.7,852.5 C295.1,853.3 295.2,853.6 296.0,853.5 C296.8,853.5 297.2,853.1 298.3,852.1 C299.4,851.2 301.9,848.5 302.6,847.8" fill="none" stroke="#fff" stroke-width="34" opacity="0.36" filter="url(#b8)" stroke-linecap="round"/><path d="M131.8,659.1 C132.2,659.4 131.6,658.5 134.3,661.0 C137.1,663.5 144.1,669.1 148.2,674.1 C152.3,679.1 155.4,685.0 159.0,691.0 C162.5,696.9 167.0,705.0 169.6,709.9 C172.1,714.8 172.5,716.0 174.4,720.4 C176.2,724.9 178.4,731.0 180.8,736.9 C183.2,742.7 186.1,750.3 188.7,755.4 C191.2,760.4 193.4,763.5 196.0,767.3 C198.6,771.2 200.2,774.1 204.1,778.6 C208.1,783.1 214.7,789.4 220.0,794.4 C225.2,799.5 230.5,804.0 235.8,808.8 C241.1,813.6 246.5,818.1 251.9,823.1 C257.2,828.2 263.6,835.1 267.8,839.1 C271.9,843.1 274.1,844.9 276.9,847.2 C279.7,849.4 282.2,851.2 284.7,852.8 C287.1,854.5 289.7,856.1 291.6,857.1 C293.6,858.0 294.8,858.6 296.4,858.5 C298.0,858.4 299.6,857.4 301.2,856.2 C302.8,855.0 305.3,852.2 306.1,851.4" fill="none" stroke="#fff" stroke-width="16" opacity="0.4" filter="url(#b5)" stroke-linecap="round"/><path d="M130.0,661.5 C130.4,661.8 129.7,660.8 132.3,663.2 C135.0,665.6 141.9,671.1 145.9,676.0 C149.9,680.9 152.9,686.6 156.4,692.5 C159.9,698.4 164.4,706.4 166.9,711.3 C169.4,716.1 169.8,717.1 171.6,721.6 C173.4,726.1 175.6,732.1 178.0,738.0 C180.4,743.9 183.4,751.5 186.0,756.7 C188.6,761.9 190.8,765.0 193.5,769.0 C196.2,773.0 197.8,776.0 201.9,780.6 C206.0,785.2 212.6,791.5 217.9,796.6 C223.2,801.7 228.5,806.2 233.8,811.0 C239.1,815.8 244.5,820.2 249.8,825.3 C255.1,830.3 261.5,837.3 265.7,841.3 C269.9,845.3 272.1,847.2 275.0,849.5 C277.9,851.8 280.4,853.6 283.0,855.3 C285.6,857.0 288.1,858.8 290.4,859.8 C292.7,860.8 294.6,861.7 296.7,861.5 C298.8,861.3 301.0,860.0 302.9,858.7 C304.8,857.4 307.3,854.4 308.2,853.5" fill="none" stroke="#fff" stroke-width="4.6" opacity="1.0" filter="url(#b1)" stroke-linecap="round"/><path d="M130.0,661.5 C130.4,661.8 129.7,660.8 132.3,663.2 C135.0,665.6 141.9,671.1 145.9,676.0 C149.9,680.9 152.9,686.6 156.4,692.5 C159.9,698.4 164.4,706.4 166.9,711.3 C169.4,716.1 169.8,717.1 171.6,721.6 C173.4,726.1 175.6,732.1 178.0,738.0 C180.4,743.9 183.4,751.5 186.0,756.7 C188.6,761.9 190.8,765.0 193.5,769.0 C196.2,773.0 197.8,776.0 201.9,780.6 C206.0,785.2 212.6,791.5 217.9,796.6 C223.2,801.7 228.5,806.2 233.8,811.0 C239.1,815.8 244.5,820.2 249.8,825.3 C255.1,830.3 261.5,837.3 265.7,841.3 C269.9,845.3 272.1,847.2 275.0,849.5 C277.9,851.8 280.4,853.6 283.0,855.3 C285.6,857.0 288.1,858.8 290.4,859.8 C292.7,860.8 294.6,861.7 296.7,861.5 C298.8,861.3 301.0,860.0 302.9,858.7 C304.8,857.4 307.3,854.4 308.2,853.5" fill="none" stroke="#ff968c" stroke-width="1.7" filter="url(#b05)"/>
<path d="M362.1,682.6 C363.1,680.8 365.2,677.0 368.4,672.0 C371.6,667.1 377.0,658.6 381.3,652.8 C385.6,646.9 389.9,641.3 394.1,636.7 C398.3,632.2 402.5,628.6 406.7,625.5 C410.9,622.4 414.9,620.0 419.1,618.0 C423.2,616.0 427.4,614.7 431.5,613.7 C435.7,612.7 439.9,612.1 444.0,611.8 C448.2,611.5 452.3,611.4 456.4,611.8 C460.6,612.1 465.7,613.1 469.0,613.9 C472.3,614.7 474.5,615.9 476.1,616.7 C477.7,617.5 478.2,618.4 478.6,618.8" fill="none" stroke="#fff" stroke-width="40" opacity="0.33" filter="url(#b8)" stroke-linecap="round"/><path d="M360.8,681.8 C361.8,680.0 363.9,676.2 367.2,671.2 C370.4,666.2 375.8,657.8 380.1,651.9 C384.4,646.0 388.7,640.3 393.0,635.7 C397.3,631.1 401.6,627.5 405.8,624.3 C410.0,621.1 414.2,618.7 418.4,616.7 C422.7,614.6 426.9,613.3 431.2,612.3 C435.4,611.2 439.7,610.6 443.9,610.3 C448.2,610.0 452.3,609.9 456.6,610.3 C460.8,610.7 466.0,611.6 469.3,612.5 C472.7,613.3 475.1,614.5 476.8,615.3 C478.5,616.2 479.1,617.3 479.5,617.7" fill="none" stroke="#fff" stroke-width="18" opacity="0.4" filter="url(#b5)" stroke-linecap="round"/><path d="M341.5,714.2 C341.8,713.8 341.9,713.3 343.0,711.5 C344.1,709.7 346.1,706.7 347.8,703.5 C349.5,700.3 351.1,696.2 353.0,692.5 C354.9,688.8 357.4,684.7 359.5,681.0 C361.6,677.3 362.7,675.4 365.9,670.4 C369.1,665.4 374.6,657.0 378.9,651.0 C383.2,645.0 387.6,639.4 391.9,634.7 C396.2,630.1 400.6,626.3 404.9,623.1 C409.2,619.9 413.5,617.3 417.8,615.3 C422.1,613.2 426.5,611.9 430.8,610.8 C435.1,609.7 439.5,609.1 443.8,608.8 C448.1,608.5 452.4,608.4 456.7,608.8 C461.0,609.2 466.2,610.1 469.7,611.0 C473.2,611.9 475.7,613.1 477.5,614.0 C479.3,614.9 480.0,616.1 480.5,616.5" fill="none" stroke="#fff" stroke-width="4.6" opacity="1.0" filter="url(#b1)" stroke-linecap="round"/><path d="M341.5,714.2 C341.8,713.8 341.9,713.3 343.0,711.5 C344.1,709.7 346.1,706.7 347.8,703.5 C349.5,700.3 351.1,696.2 353.0,692.5 C354.9,688.8 357.4,684.7 359.5,681.0 C361.6,677.3 362.7,675.4 365.9,670.4 C369.1,665.4 374.6,657.0 378.9,651.0 C383.2,645.0 387.6,639.4 391.9,634.7 C396.2,630.1 400.6,626.3 404.9,623.1 C409.2,619.9 413.5,617.3 417.8,615.3 C422.1,613.2 426.5,611.9 430.8,610.8 C435.1,609.7 439.5,609.1 443.8,608.8 C448.1,608.5 452.4,608.4 456.7,608.8 C461.0,609.2 466.2,610.1 469.7,611.0 C473.2,611.9 475.7,613.1 477.5,614.0 C479.3,614.9 480.0,616.1 480.5,616.5" fill="none" stroke="#ff968c" stroke-width="1.7" filter="url(#b05)"/>
<path d="M530.0,668.2 C530.3,667.7 530.5,666.5 531.7,665.5 C532.8,664.5 535.3,662.6 537.0,662.0 C538.6,661.5 539.2,661.3 541.5,661.9 C543.9,662.5 549.4,665.0 550.9,665.6" fill="none" stroke="#fff" stroke-width="20" opacity="0.35" filter="url(#b5)" stroke-linecap="round"/><path d="M528.3,667.1 C528.7,666.5 529.0,665.1 530.4,664.0 C531.7,662.8 534.4,660.8 536.3,660.1 C538.3,659.5 539.4,659.4 542.0,660.0 C544.5,660.6 550.0,663.1 551.6,663.7" fill="none" stroke="#fff" stroke-width="10" opacity="0.5" filter="url(#b3)" stroke-linecap="round"/><path d="M527.5,666.5 C527.9,666.0 528.3,664.4 529.7,663.2 C531.1,662.0 533.9,659.9 536.0,659.2 C538.1,658.5 539.5,658.4 542.2,659.0 C544.9,659.6 550.4,662.2 552.0,662.8" fill="none" stroke="#fff" stroke-width="4.6" opacity="1.0" filter="url(#b1)" stroke-linecap="round"/><path d="M527.5,666.5 C527.9,666.0 528.3,664.4 529.7,663.2 C531.1,662.0 533.9,659.9 536.0,659.2 C538.1,658.5 539.5,658.4 542.2,659.0 C544.9,659.6 550.4,662.2 552.0,662.8" fill="none" stroke="#ff968c" stroke-width="2.0" filter="url(#b05)"/>
<path d="M372.9,848.5 L375.5,853.5 L379.0,858.7 L385.2,862.9 L391.5,864.0 L399.9,860.8 L410.4,852.5 L422.9,840.9 L435.5,828.4 L448.0,816.9 L460.6,805.4 L473.2,792.8 L485.7,780.2 L496.2,768.7 L497.5,765.3 L492.0,772.5 L486.5,781.0 L481.9,787.8 L475.9,797.9 L469.9,806.3 L457.9,821.9 L444.8,840.0 L435.8,851.5 L425.0,865.0 L414.9,878.0 L406.2,886.5 L397.8,892.0 L389.4,886.0 L381.1,872.3 L372.7,851.4Z" fill="#fff" opacity="0.2" filter="url(#b1)"/>
<path d="M380.0,844.8 C380.4,845.6 381.6,848.0 382.4,849.4 C383.1,850.8 383.6,851.9 384.6,853.0 C385.6,854.0 387.4,855.0 388.3,855.5 C389.3,856.1 389.1,856.3 390.4,856.1 C391.6,855.8 393.3,855.6 395.7,854.0 C398.2,852.4 401.6,849.6 405.2,846.5 C408.8,843.3 413.2,839.1 417.4,835.1 C421.5,831.2 425.8,826.6 430.0,822.6 C434.2,818.6 438.4,814.8 442.6,811.0 C446.8,807.2 450.9,803.6 455.1,799.6 C459.2,795.6 463.4,791.3 467.5,787.2 C471.7,783.0 476.1,778.7 479.9,774.7 C483.7,770.7 488.6,765.2 490.3,763.3" fill="none" stroke="#fff" stroke-width="34" opacity="0.36" filter="url(#b8)" stroke-linecap="round"/><path d="M375.6,847.1 C376.0,847.9 377.2,850.4 378.1,852.0 C379.0,853.5 379.7,855.2 381.1,856.5 C382.5,857.9 384.7,859.4 386.4,860.1 C388.0,860.9 389.1,861.3 391.1,861.0 C393.1,860.7 395.4,860.0 398.3,858.2 C401.2,856.4 404.7,853.5 408.4,850.2 C412.2,847.0 416.7,842.7 420.8,838.7 C425.0,834.7 429.2,830.2 433.4,826.2 C437.6,822.2 441.8,818.5 446.0,814.7 C450.2,810.9 454.3,807.2 458.5,803.2 C462.7,799.2 466.9,794.9 471.1,790.7 C475.2,786.5 479.7,782.1 483.5,778.1 C487.3,774.1 492.2,768.6 494.0,766.7" fill="none" stroke="#fff" stroke-width="16" opacity="0.4" filter="url(#b5)" stroke-linecap="round"/><path d="M372.9,848.5 C373.3,849.3 374.5,851.8 375.5,853.5 C376.5,855.2 377.4,857.1 379.0,858.7 C380.6,860.3 383.1,862.0 385.2,862.9 C387.3,863.8 389.1,864.4 391.5,864.0 C393.9,863.6 396.8,862.7 399.9,860.8 C403.0,858.9 406.6,855.8 410.4,852.5 C414.2,849.2 418.7,844.9 422.9,840.9 C427.1,836.9 431.3,832.4 435.5,828.4 C439.7,824.4 443.8,820.7 448.0,816.9 C452.2,813.1 456.4,809.4 460.6,805.4 C464.8,801.4 469.0,797.0 473.2,792.8 C477.4,788.6 481.9,784.2 485.7,780.2 C489.5,776.2 493.4,771.8 496.2,768.7 C499.0,765.6 501.4,762.6 502.5,761.4" fill="none" stroke="#fff" stroke-width="4.6" opacity="1.0" filter="url(#b1)" stroke-linecap="round"/><path d="M372.9,848.5 C373.3,849.3 374.5,851.8 375.5,853.5 C376.5,855.2 377.4,857.1 379.0,858.7 C380.6,860.3 383.1,862.0 385.2,862.9 C387.3,863.8 389.1,864.4 391.5,864.0 C393.9,863.6 396.8,862.7 399.9,860.8 C403.0,858.9 406.6,855.8 410.4,852.5 C414.2,849.2 418.7,844.9 422.9,840.9 C427.1,836.9 431.3,832.4 435.5,828.4 C439.7,824.4 443.8,820.7 448.0,816.9 C452.2,813.1 456.4,809.4 460.6,805.4 C464.8,801.4 469.0,797.0 473.2,792.8 C477.4,788.6 481.9,784.2 485.7,780.2 C489.5,776.2 493.4,771.8 496.2,768.7 C499.0,765.6 501.4,762.6 502.5,761.4" fill="none" stroke="#ff968c" stroke-width="1.7" filter="url(#b05)"/>
<path d="M202,623.3 L183,613 L180,627 Z" fill="#ff8080" filter="url(#b3)" opacity="0.8"/>
<path d="M476.5,616 L496,609 L500,623 Z" fill="#ff8080" filter="url(#b3)" opacity="0.8"/>
</g>
<rect x="131" y="531" width="419.5" height="406.8" fill="none" stroke="#454545" stroke-width="2.2"/>
<path d="M132,633.1 h6 M132,734.4 h6 M132,835.7 h6 M132,582.4 h3 M132,683.7 h3 M132,785 h3 M132,886.3 h3" stroke="#111" stroke-width="1.6" fill="none"/>
<text x="118" y="548.6" font-size="33.5" text-anchor="end" textLength="45.6" lengthAdjust="spacingAndGlyphs" >0.6</text>
<text x="118" y="644" font-size="33.5" text-anchor="end" textLength="46" lengthAdjust="spacingAndGlyphs" >0.3</text>
<text x="118" y="745.5" font-size="33.5" text-anchor="end" >0</text>
<text x="118" y="846.5" font-size="33.5" text-anchor="end" textLength="46" lengthAdjust="spacingAndGlyphs" >0.3</text>
<text x="43.7" y="849.1" font-size="33.5" textLength="24.8" lengthAdjust="spacingAndGlyphs">−</text>
<text x="118" y="942.3" font-size="33.5" text-anchor="end" textLength="46" lengthAdjust="spacingAndGlyphs" >0.6</text>
<text x="43.7" y="944.9" font-size="33.5" textLength="24.8" lengthAdjust="spacingAndGlyphs">−</text>
<text x="152.6" y="576" font-size="33" textLength="46.4" lengthAdjust="spacingAndGlyphs"><tspan font-size="38.5" dy="0.6">(</tspan><tspan dy="-0.6">b</tspan><tspan font-size="38.5" dy="0.6">)</tspan></text>
<text x="106.6" y="973.2" font-size="33.5" textLength="24.8" lengthAdjust="spacingAndGlyphs">−</text>
<text x="134.8" y="970.6" font-size="34.5" font-style="italic" textLength="30" lengthAdjust="spacingAndGlyphs" >X</text>
<text x="329.2" y="970" font-size="34.5" font-style="italic" textLength="24" lengthAdjust="spacingAndGlyphs" >Γ</text>
<text x="526.5" y="970" font-size="34.5" font-style="italic" textLength="30" lengthAdjust="spacingAndGlyphs" >X</text>
<g transform="translate(28.7,827.0) rotate(-90)">
<text x="-0.8" y="0" font-size="34" textLength="114.1" lengthAdjust="spacingAndGlyphs">Energy</text>
<text x="129.6" y="0" font-size="34" textLength="69.4" lengthAdjust="spacingAndGlyphs"><tspan font-size="37.8" dy="0.7">(</tspan><tspan dy="-0.7">eV</tspan><tspan font-size="37.8" dy="0.7">)</tspan></text>
</g>
<rect x="708.75" y="34.25" width="364.75" height="400.05" fill="none" stroke="#000" stroke-width="2.5"/>
<path d="M799.3,433 v-6.5 M891,433 v-6.5 M982.7,433 v-6.5 M753.9,433 v-3 M845.2,433 v-3 M936.7,433 v-3 M1028.4,433 v-3 M710,53.1 h6.5 M710,243.7 h6.5 M710,148.4 h3 M710,339.0 h3" stroke="#000" stroke-width="1.6" fill="none"/>
<path d="M718.9,53.1 H1072.5" stroke="#111" stroke-width="1.5" stroke-dasharray="5.4 4.27" fill="none"/>
<g clip-path="url(#clipC)">
<polyline points="706.6,316.5 711.5,365.7 716.4,367.2 721.4,363.2 726.3,358.3 731.2,356.6 736.1,357.0 741.0,357.8 746.0,358.5 750.9,359.3 755.8,359.8 760.7,359.3 765.6,358.3 770.6,357.0 775.5,355.0 780.4,352.9 785.3,350.0 790.2,346.7 795.2,342.9 800.1,339.2 805.0,334.6 809.9,327.4 814.8,322.4 819.8,315.5 824.7,303.3 829.6,296.6 834.5,281.8 839.4,267.4 844.4,247.6 849.3,233.9 854.2,193.6 859.1,167.2 864.0,102.4 869.0,53.1 873.9,51.7 878.8,51.7 883.7,51.7 888.6,51.7 893.6,51.7 898.5,51.7 903.4,51.7 908.3,58.4 913.2,96.1 918.2,151.9 923.1,182.7 928.0,223.6 932.9,240.4 937.8,259.7 942.8,275.9 947.7,290.5 952.6,297.4 957.5,309.6 962.4,317.5 967.4,322.5 972.3,330.4 977.2,336.6 982.1,340.3 987.0,346.0 992.0,350.3 996.9,356.2 1001.8,367.6 1006.7,406.5 1011.6,371.2 1016.6,375.2 1021.5,379.1 1026.4,436.5 1031.3,376.3 1036.2,379.2 1041.2,389.3 1046.1,378.4 1051.0,389.3 1055.9,474.0 1060.8,500.0 1065.8,500.0 1070.7,496.0 1075.6,338.0" fill="none" stroke="#000" stroke-width="1.7" stroke-linejoin="miter"/>
</g>
<path d="M702.1,312.0h9v9h-9zM707.0,361.2h9v9h-9zM711.9,362.7h9v9h-9zM716.9,358.7h9v9h-9zM721.8,353.8h9v9h-9zM726.7,352.1h9v9h-9zM731.6,352.5h9v9h-9zM736.5,353.3h9v9h-9zM741.5,354.0h9v9h-9zM746.4,354.8h9v9h-9zM751.3,355.3h9v9h-9zM756.2,354.8h9v9h-9zM761.1,353.8h9v9h-9zM766.1,352.5h9v9h-9zM771.0,350.5h9v9h-9zM775.9,348.4h9v9h-9zM780.8,345.5h9v9h-9zM785.7,342.2h9v9h-9zM790.7,338.4h9v9h-9zM795.6,334.7h9v9h-9zM800.5,330.1h9v9h-9zM805.4,322.9h9v9h-9zM810.3,317.9h9v9h-9zM815.3,311.0h9v9h-9zM820.2,298.8h9v9h-9zM825.1,292.1h9v9h-9zM830.0,277.3h9v9h-9zM834.9,262.9h9v9h-9zM839.9,243.1h9v9h-9zM844.8,229.4h9v9h-9zM849.7,189.1h9v9h-9zM854.6,162.7h9v9h-9zM859.5,97.9h9v9h-9zM864.5,48.6h9v9h-9zM869.4,47.2h9v9h-9zM874.3,47.2h9v9h-9zM879.2,47.2h9v9h-9zM884.1,47.2h9v9h-9zM889.1,47.2h9v9h-9zM894.0,47.2h9v9h-9zM898.9,47.2h9v9h-9zM903.8,53.9h9v9h-9zM908.7,91.6h9v9h-9zM913.7,147.4h9v9h-9zM918.6,178.2h9v9h-9zM923.5,219.1h9v9h-9zM928.4,235.9h9v9h-9zM933.3,255.2h9v9h-9zM938.3,271.4h9v9h-9zM943.2,286.0h9v9h-9zM948.1,292.9h9v9h-9zM953.0,305.1h9v9h-9zM957.9,313.0h9v9h-9zM962.9,318.0h9v9h-9zM967.8,325.9h9v9h-9zM972.7,332.1h9v9h-9zM977.6,335.8h9v9h-9zM982.5,341.5h9v9h-9zM987.5,345.8h9v9h-9zM992.4,351.7h9v9h-9zM997.3,363.1h9v9h-9zM1002.2,402.0h9v9h-9zM1007.1,366.7h9v9h-9zM1012.1,370.7h9v9h-9zM1017.0,374.6h9v9h-9zM1026.8,371.8h9v9h-9zM1031.7,374.7h9v9h-9zM1036.7,384.8h9v9h-9zM1041.6,373.9h9v9h-9zM1046.5,384.8h9v9h-9zM1071.1,333.5h9v9h-9z" fill="#ff0000"/>
<text x="697.6" y="64" font-size="33.5" text-anchor="end" >2</text>
<text x="697.4" y="254.4" font-size="33.5" text-anchor="end" >1</text>
<text x="697.6" y="446" font-size="33.5" text-anchor="end" >0</text>
<text x="718.2" y="84.5" font-size="33" textLength="43.4" lengthAdjust="spacingAndGlyphs"><tspan font-size="38.5" dy="0.6">(</tspan><tspan dy="-0.6">c</tspan><tspan font-size="38.5" dy="0.6">)</tspan></text>
<text x="718.2" y="467" font-size="33.5" textLength="46" lengthAdjust="spacingAndGlyphs" >0.6</text>
<text x="690.3" y="469.6" font-size="33.5" textLength="24.8" lengthAdjust="spacingAndGlyphs">−</text>
<text x="891.8" y="467.3" font-size="33.5" text-anchor="middle" >0</text>
<text x="1045.7" y="467.3" font-size="33.5" textLength="46" lengthAdjust="spacingAndGlyphs" >0.6</text>
<g transform="translate(807.8,495.7)">
<text x="-0.8" y="0" font-size="34" textLength="115.0" lengthAdjust="spacingAndGlyphs">Energy</text>
<text x="130.6" y="0" font-size="34" textLength="70.0" lengthAdjust="spacingAndGlyphs"><tspan font-size="37.8" dy="0.7">(</tspan><tspan dy="-0.7">eV</tspan><tspan font-size="37.8" dy="0.7">)</tspan></text>
</g>
<g transform="translate(635,335.5) rotate(-90)">
<text x="0" y="0" font-size="35" font-style="italic" textLength="19.5" lengthAdjust="spacingAndGlyphs">σ</text>
<text x="20" y="8" font-size="24" font-style="italic" textLength="24" lengthAdjust="spacingAndGlyphs">xy</text>
<text x="62" y="1" font-size="38">(</text>
<text x="75.5" y="0" font-size="34" font-style="italic">e</text>
<text x="89.8" y="-12" font-size="25">2</text>
<text x="103" y="0" font-size="34" textLength="17" lengthAdjust="spacingAndGlyphs">/</text>
<text x="122" y="0" font-size="34" font-style="italic" textLength="20" lengthAdjust="spacingAndGlyphs">h</text>
<text x="143" y="1" font-size="38">)</text>
</g>
<rect x="710.3" y="534.4" width="359.4" height="394" fill="none" stroke="#000" stroke-width="2.5"/>
<path d="M800.1,927.2 v-6.5 M890.2,927.2 v-6.5 M980.3,927.2 v-6.5 M755,927.2 v-3 M845.1,927.2 v-3 M935.2,927.2 v-3 M1025.3,927.2 v-3 M711.5,713.3 h6.5 M711.5,892.9 h6.5 M711.5,623.8 h3 M711.5,802.8 h3" stroke="#000" stroke-width="1.6" fill="none"/>
<polyline points="705.7,605.1 710.2,605.9 714.8,606.9 719.4,607.9 723.9,609.1 728.5,610.1 733.0,611.6 737.6,612.8 742.1,614.4 746.7,616.3 751.2,618.4 755.8,620.9 760.3,623.4 764.9,626.6 769.4,630.2 774.0,634.6 778.5,637.5 783.1,643.7 787.6,654.4 792.2,657.3 796.7,660.3 801.2,667.5 805.8,676.5 810.4,685.5 814.9,693.7 819.5,706.0 824.0,715.5 828.6,729.3 833.1,753.3 837.7,771.9 842.2,783.5 846.8,808.8 851.3,862.3 855.9,885.6 860.4,892.8 865.0,892.8 869.5,892.8 874.1,892.8 878.6,892.8 883.2,892.8 887.7,892.8 892.2,892.8 896.8,892.8 901.4,892.8 905.9,892.8 910.5,892.8 915.0,892.8 919.6,879.7 924.1,846.9 928.7,807.0 933.2,790.7 937.8,771.6 942.3,736.4 946.9,730.1 951.4,723.6 956.0,707.4 960.5,693.2 965.0,686.9 969.6,678.5 974.2,670.3 978.7,667.0 983.2,657.5 987.8,652.7 992.4,646.7 996.9,643.4 1001.5,639.5 1006.0,634.6 1010.5,631.3 1015.1,626.4 1019.7,624.7 1024.2,622.5 1028.8,618.7 1033.3,615.7 1037.8,613.5 1042.4,612.1 1047.0,610.5 1051.5,647.7 1056.0,605.5 1060.6,605.5 1065.2,564.3 1069.7,600.4 1074.2,553.4" fill="none" stroke="#000" stroke-width="1.7" stroke-linejoin="miter"/>
<path d="M701.2,600.6h8.9v8.9h-8.9zM705.8,601.4h8.9v8.9h-8.9zM710.4,602.4h8.9v8.9h-8.9zM714.9,603.4h8.9v8.9h-8.9zM719.5,604.6h8.9v8.9h-8.9zM724.0,605.6h8.9v8.9h-8.9zM728.5,607.1h8.9v8.9h-8.9zM733.1,608.3h8.9v8.9h-8.9zM737.6,609.9h8.9v8.9h-8.9zM742.2,611.8h8.9v8.9h-8.9zM746.8,613.9h8.9v8.9h-8.9zM751.3,616.4h8.9v8.9h-8.9zM755.9,618.9h8.9v8.9h-8.9zM760.4,622.1h8.9v8.9h-8.9zM765.0,625.8h8.9v8.9h-8.9zM769.5,630.1h8.9v8.9h-8.9zM774.0,633.0h8.9v8.9h-8.9zM778.6,639.2h8.9v8.9h-8.9zM783.1,649.9h8.9v8.9h-8.9zM787.7,652.8h8.9v8.9h-8.9zM792.2,655.8h8.9v8.9h-8.9zM796.8,663.0h8.9v8.9h-8.9zM801.4,672.0h8.9v8.9h-8.9zM805.9,681.0h8.9v8.9h-8.9zM810.5,689.2h8.9v8.9h-8.9zM815.0,701.5h8.9v8.9h-8.9zM819.5,711.0h8.9v8.9h-8.9zM824.1,724.8h8.9v8.9h-8.9zM828.6,748.8h8.9v8.9h-8.9zM833.2,767.4h8.9v8.9h-8.9zM837.8,779.0h8.9v8.9h-8.9zM842.3,804.3h8.9v8.9h-8.9zM846.9,857.8h8.9v8.9h-8.9zM851.4,881.1h8.9v8.9h-8.9zM856.0,888.3h8.9v8.9h-8.9zM860.5,888.3h8.9v8.9h-8.9zM865.0,888.3h8.9v8.9h-8.9zM869.6,888.3h8.9v8.9h-8.9zM874.1,888.3h8.9v8.9h-8.9zM878.7,888.3h8.9v8.9h-8.9zM883.2,888.3h8.9v8.9h-8.9zM887.8,888.3h8.9v8.9h-8.9zM892.4,888.3h8.9v8.9h-8.9zM896.9,888.3h8.9v8.9h-8.9zM901.5,888.3h8.9v8.9h-8.9zM906.0,888.3h8.9v8.9h-8.9zM910.5,888.3h8.9v8.9h-8.9zM915.1,875.2h8.9v8.9h-8.9zM919.6,842.4h8.9v8.9h-8.9zM924.2,802.5h8.9v8.9h-8.9zM928.8,786.2h8.9v8.9h-8.9zM933.3,767.1h8.9v8.9h-8.9zM937.9,731.9h8.9v8.9h-8.9zM942.4,725.6h8.9v8.9h-8.9zM947.0,719.1h8.9v8.9h-8.9zM951.5,702.9h8.9v8.9h-8.9zM956.0,688.8h8.9v8.9h-8.9zM960.6,682.4h8.9v8.9h-8.9zM965.1,674.0h8.9v8.9h-8.9zM969.7,665.8h8.9v8.9h-8.9zM974.2,662.5h8.9v8.9h-8.9zM978.8,653.0h8.9v8.9h-8.9zM983.3,648.2h8.9v8.9h-8.9zM987.9,642.2h8.9v8.9h-8.9zM992.5,638.9h8.9v8.9h-8.9zM997.0,635.0h8.9v8.9h-8.9zM1001.5,630.1h8.9v8.9h-8.9zM1006.1,626.8h8.9v8.9h-8.9zM1010.6,621.9h8.9v8.9h-8.9zM1015.2,620.2h8.9v8.9h-8.9zM1019.8,618.0h8.9v8.9h-8.9zM1024.3,614.2h8.9v8.9h-8.9zM1028.8,611.2h8.9v8.9h-8.9zM1033.4,609.0h8.9v8.9h-8.9zM1038.0,607.6h8.9v8.9h-8.9zM1042.5,606.0h8.9v8.9h-8.9zM1047.0,643.2h8.9v8.9h-8.9zM1051.6,601.0h8.9v8.9h-8.9zM1056.1,601.0h8.9v8.9h-8.9zM1060.7,559.8h8.9v8.9h-8.9zM1065.2,595.9h8.9v8.9h-8.9zM1069.8,548.9h8.9v8.9h-8.9z" fill="#ff0000"/>
<path d="M718.9,892.9 H1068.5" stroke="#1a1a1a" stroke-width="1.5" stroke-dasharray="5 4.52" fill="none"/>
<text x="701.4" y="545.3" font-size="33.5" text-anchor="end" >0</text>
<text x="699.6" y="724.2" font-size="33.5" text-anchor="end" >1</text>
<text x="656.6" y="726.8" font-size="33.5" textLength="24.8" lengthAdjust="spacingAndGlyphs">−</text>
<text x="701.2" y="904" font-size="33.5" text-anchor="end" >2</text>
<text x="655.9" y="906.6" font-size="33.5" textLength="24.8" lengthAdjust="spacingAndGlyphs">−</text>
<text x="725.1" y="572" font-size="33" textLength="46.6" lengthAdjust="spacingAndGlyphs"><tspan font-size="38.5" dy="0.6">(</tspan><tspan dy="-0.6">d</tspan><tspan font-size="38.5" dy="0.6">)</tspan></text>
<text x="719" y="960" font-size="33.5" textLength="47" lengthAdjust="spacingAndGlyphs" >0.4</text>
<text x="690.8" y="962.6" font-size="33.5" textLength="24.8" lengthAdjust="spacingAndGlyphs">−</text>
<text x="890.8" y="960" font-size="33.5" text-anchor="middle" >0</text>
<text x="1037" y="960" font-size="33.5" textLength="47" lengthAdjust="spacingAndGlyphs" >0.4</text>
<g transform="translate(798.4,994.4)">
<text x="-0.8" y="0" font-size="34" textLength="115.0" lengthAdjust="spacingAndGlyphs">Energy</text>
<text x="130.6" y="0" font-size="34" textLength="70.0" lengthAdjust="spacingAndGlyphs"><tspan font-size="37.8" dy="0.7">(</tspan><tspan dy="-0.7">eV</tspan><tspan font-size="37.8" dy="0.7">)</tspan></text>
</g>
<g transform="translate(635,794.7) rotate(-90)">
<text x="0" y="0" font-size="35" font-style="italic" textLength="19.5" lengthAdjust="spacingAndGlyphs">σ</text>
<text x="20" y="8" font-size="24" font-style="italic" textLength="24" lengthAdjust="spacingAndGlyphs">xy</text>
<text x="62" y="1" font-size="38">(</text>
<text x="75.5" y="0" font-size="34" font-style="italic">e</text>
<text x="89.8" y="-12" font-size="25">2</text>
<text x="103" y="0" font-size="34" textLength="17" lengthAdjust="spacingAndGlyphs">/</text>
<text x="122" y="0" font-size="34" font-style="italic" textLength="20" lengthAdjust="spacingAndGlyphs">h</text>
<text x="143" y="1" font-size="38">)</text>
</g>
<g clip-path="url(#clipE)">
<ellipse cx="1170" cy="225" rx="22" ry="42" fill="#ffe6e6" filter="url(#b8)" opacity="0.6"/><ellipse cx="1528" cy="225" rx="20" ry="40" fill="#ffe6e6" filter="url(#b8)" opacity="0.6"/><circle cx="1282" cy="391" r="16" fill="#fff0f0" filter="url(#b3)"/>
<circle cx="1348" cy="86" r="30" fill="url(#dotR)"/>
<circle cx="1196.4" cy="237.6" r="30" fill="url(#dotR)"/>
<circle cx="1499.9" cy="237.4" r="30" fill="url(#dotR)"/>
<circle cx="1347.8" cy="388.3" r="30" fill="url(#dotR)"/>
</g>
<rect x="1155.8" y="45.6" width="384.60000000000014" height="383.7" fill="none" stroke="#3a3a3a" stroke-width="2.2"/>
<text x="1171.5" y="84" font-size="33" textLength="42.6" lengthAdjust="spacingAndGlyphs"><tspan font-size="38.5" dy="0.6">(</tspan><tspan dy="-0.6">e</tspan><tspan font-size="38.5" dy="0.6">)</tspan></text>
<g clip-path="url(#clipF)">

<circle cx="1346.1" cy="595.9" r="30" fill="url(#dotB)"/>
<circle cx="1195" cy="746.5" r="30" fill="url(#dotB)"/>
<circle cx="1497.5" cy="746.5" r="30" fill="url(#dotB)"/>
<circle cx="1346" cy="897.5" r="30" fill="url(#dotB)"/>
</g>
<rect x="1154.2" y="555.2" width="384.0" height="382.5999999999999" fill="none" stroke="#3a3a3a" stroke-width="2.2"/>
<text x="1170.4" y="590.5" font-size="33" textLength="40.0" lengthAdjust="spacingAndGlyphs"><tspan font-size="38.5" dy="0.6">(</tspan><tspan dy="-0.6">f</tspan><tspan font-size="38.5" dy="0.6">)</tspan></text>
<rect x="1551.2" y="44.2" width="25.799999999999955" height="385.1" fill="url(#cbar)" stroke="#000" stroke-opacity="0.55" stroke-width="1"/>
<text x="1538" y="37.6" font-size="33.5" textLength="34.5" lengthAdjust="spacingAndGlyphs">10</text>
<text x="1573.2" y="27.400000000000002" font-size="22.5" textLength="12.6" lengthAdjust="spacingAndGlyphs">2</text>
<text x="1538" y="456.8" font-size="33.5" textLength="34.5" lengthAdjust="spacingAndGlyphs">10</text>
<text x="1575.6" y="448.2" font-size="22.5" textLength="17.4" lengthAdjust="spacingAndGlyphs">−</text>
<text x="1595.8" y="446.6" font-size="22.5" textLength="12.6" lengthAdjust="spacingAndGlyphs">2</text>
<rect x="1550.2" y="554.2" width="25.59999999999991" height="383.29999999999995" fill="url(#cbar)" stroke="#000" stroke-opacity="0.55" stroke-width="1"/>
<text x="1545.4" y="547.9" font-size="33.5" textLength="34.5" lengthAdjust="spacingAndGlyphs">10</text>
<text x="1580.6000000000001" y="537.6999999999999" font-size="22.5" textLength="12.6" lengthAdjust="spacingAndGlyphs">2</text>
<text x="1545.4" y="966.6" font-size="33.5" textLength="34.5" lengthAdjust="spacingAndGlyphs">10</text>
<text x="1583.0" y="958.0" font-size="22.5" textLength="17.4" lengthAdjust="spacingAndGlyphs">−</text>
<text x="1603.2" y="956.4" font-size="22.5" textLength="12.6" lengthAdjust="spacingAndGlyphs">2</text>
</svg>
</body></html>
